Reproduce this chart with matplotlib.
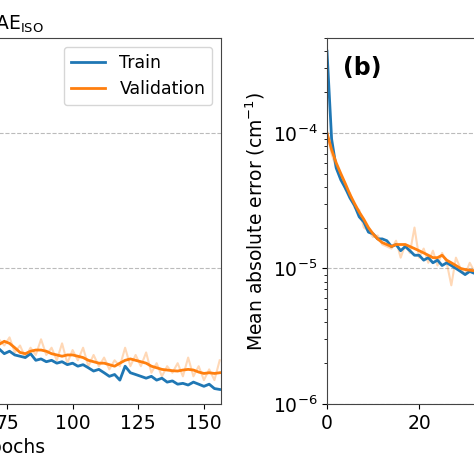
import matplotlib
matplotlib.use("Agg")
import matplotlib.pyplot as plt
import numpy as np

# Panel (a): epochs (every 2) and values in units of 1e-6
ep_a = list(range(0, 158, 2))
train_a = [60, 35, 25, 19, 15, 12.5, 11, 9.8, 8.8, 8.0, 7.3, 6.7, 6.2, 5.8, 5.4, 5.1, 4.8, 4.5, 4.3, 4.1,
           3.9, 3.7, 3.55, 3.4, 3.3, 3.2, 3.1, 3.0, 2.9, 2.8, 2.7, 2.65, 2.6, 2.55, 2.5, 2.45, 2.55, 2.35,
           2.45, 2.3, 2.25, 2.2, 2.35, 2.1, 2.15, 2.05, 2.1, 2.0, 2.05, 1.95, 2.0, 1.9, 1.95, 1.85, 1.75,
           1.8, 1.7, 1.6, 1.65, 1.5, 1.9, 1.7, 1.65, 1.6, 1.55, 1.6, 1.5, 1.55, 1.45, 1.48, 1.4, 1.42, 1.38,
           1.45, 1.4, 1.35, 1.4, 1.3, 1.28]
val_a = [30, 22, 17, 14, 12, 10.5, 9.4, 8.5, 7.8, 7.2, 6.6, 6.1, 5.7, 5.3, 5.0, 4.7, 4.45, 4.2, 4.0, 3.8,
         3.65, 3.5, 3.35, 3.25, 3.15, 3.05, 2.95, 2.9, 2.85, 2.8, 2.75, 2.7, 2.7, 2.68, 2.65, 2.65, 2.75,
         2.9, 2.8, 2.6, 2.4, 2.35, 2.45, 2.5, 2.5, 2.45, 2.35, 2.3, 2.25, 2.3, 2.3, 2.25, 2.2, 2.1, 2.05,
         2.0, 2.0, 1.95, 1.9, 2.0, 2.1, 2.15, 2.1, 2.05, 2.0, 1.9, 1.85, 1.8, 1.78, 1.76, 1.75, 1.78, 1.8,
         1.78, 1.72, 1.68, 1.7, 1.68, 1.7]
raw_a = [35, 20, 19, 13, 13, 9.5, 10, 8, 8.3, 6.8, 7.0, 5.7, 6.0, 5.0, 5.3, 4.4, 4.7, 4.0, 4.2, 3.6,
         3.9, 3.3, 3.5, 3.1, 3.3, 2.9, 3.1, 2.8, 3.0, 2.7, 2.9, 2.6, 2.8, 2.6, 2.75, 2.5, 3.0, 2.7, 3.1,
         2.4, 2.7, 2.2, 2.6, 2.3, 3.0, 2.3, 2.6, 2.1, 2.8, 2.0, 2.5, 2.1, 2.6, 1.9, 2.3, 1.9, 2.2, 1.8, 2.1,
         1.9, 2.6, 1.9, 2.3, 1.9, 2.4, 1.7, 2.0, 1.6, 1.9, 1.7, 2.0, 1.6, 2.2, 1.6, 1.9, 1.5, 1.8, 1.5, 2.1]

# Panel (b): epochs and values in units of 1e-5
ep_b = list(range(0, 36))
train_b = [40, 9, 5.5, 4.5, 3.9, 3.3, 2.9, 2.4, 2.2, 1.85, 1.8, 1.65, 1.65, 1.6, 1.45, 1.5, 1.35, 1.45,
           1.35, 1.25, 1.25, 1.15, 1.2, 1.1, 1.15, 1.05, 1.1, 1.05, 1.0, 0.95, 0.9, 0.95, 0.92, 0.9, 0.88, 0.9]
val_b = [10, 7.5, 6, 5, 4.2, 3.5, 3.0, 2.6, 2.3, 2.0, 1.8, 1.65, 1.55, 1.5, 1.45, 1.5, 1.5, 1.5, 1.45,
         1.4, 1.35, 1.3, 1.25, 1.2, 1.2, 1.25, 1.15, 1.1, 1.05, 1.0, 0.98, 0.97, 0.96, 0.95, 0.94, 0.93]
raw_b = [10, 7, 5.5, 4.8, 3.8, 3.6, 2.8, 2.7, 2.0, 1.9, 1.7, 1.75, 1.5, 1.45, 1.4, 1.6, 1.2, 1.5, 1.3,
         2.0, 1.2, 1.4, 1.1, 1.35, 1.05, 1.3, 1.1, 0.75, 1.2, 1.0, 0.9, 1.1, 0.95, 1.0, 0.9, 1.0]

blue, orange = "#1f77b4", "#ff7f0e"
fig = plt.figure(figsize=(4.74, 4.74), dpi=100)
W = 474
axa = fig.add_axes([-198 / W, 70 / W, 419 / W, 366 / W])
axb = fig.add_axes([327 / W, 70 / W, 419 / W, 366 / W])
fs = 13.5

axa.plot(ep_a, np.array(raw_a) * 1e-6, color=orange, alpha=0.3, lw=1.5)
axa.plot(ep_a, np.array(train_a) * 1e-6, color=blue, lw=2, label="Train")
axa.plot(ep_a, np.array(val_a) * 1e-6, color=orange, lw=2, label="Validation")
axa.set_xlim(-3, 156.5)
axa.set_title(r"MAE$_{\rm ISO}$", fontsize=fs)
axa.set_xlabel("Epochs", fontsize=fs)
axa.legend(fontsize=fs - 1, loc="upper right")

axb.plot(ep_b, np.array(raw_b) * 1e-5, color=orange, alpha=0.3, lw=1.5)
axb.plot(ep_b, np.array(train_b) * 1e-5, color=blue, lw=2)
axb.plot(ep_b, np.array(val_b) * 1e-5, color=orange, lw=2)
axb.set_xlim(0, 91)
axb.set_ylabel(r"Mean absolute error (cm$^{-1}$)", fontsize=fs)
axb.text(0.038, 0.95, "(b)", transform=axb.transAxes, fontsize=17, fontweight="bold", va="top")

for ax in (axa, axb):
    ax.set_yscale("log")
    ax.set_ylim(1e-6, 5e-4)
    ax.tick_params(labelsize=fs)
    ax.yaxis.grid(True, which="major", ls="--", color="#bbbbbb", lw=0.8)
    for s in ax.spines.values():
        s.set_color("#444444")
axa.set_xticks([0, 25, 50, 75, 100, 125, 150])
axb.set_xticks([0, 20, 40, 60, 80])

fig.savefig("out.png", dpi=100)
